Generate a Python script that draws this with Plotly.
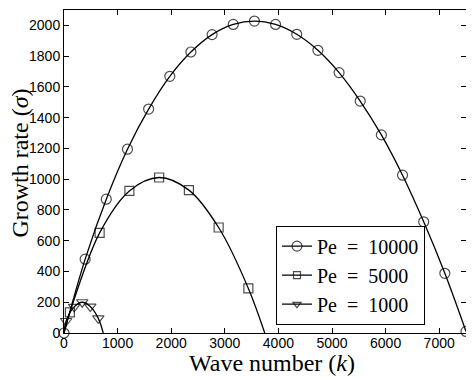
import plotly.graph_objects as go

# ---- data ----
k_pe10000 = [0, 395, 789, 1184, 1579, 1974, 2368, 2763, 3158, 3553,
             3947, 4342, 4737, 5132, 5526, 5921, 6316, 6711, 7105, 7500]
s_pe10000 = [0, 480, 870, 1195, 1456, 1669, 1827, 1940, 2006, 2028,
             2006, 1942, 1838, 1693, 1508, 1288, 1026, 723, 388, 10]

k_pe5000 = [0, 110, 665, 1220, 1775, 2330, 2885, 3440, 3745]
s_pe5000 = [0, 134, 651, 924, 1011, 929, 686, 290, 0]
m_pe5000 = [False, True, True, True, True, True, True, True, False]

k_pe1000 = [0, 40, 190, 340, 490, 640, 732]
s_pe1000 = [0, 78, 170, 200, 172, 95, 0]
m_pe1000 = [False, True, True, True, True, True, False]

series_names = ["Pe\u00a0\u00a0=\u00a0\u00a010000",
                "Pe\u00a0\u00a0=\u00a0\u00a05000",
                "Pe\u00a0\u00a0=\u00a0\u00a01000"]
x_ticks = [0, 1000, 2000, 3000, 4000, 5000, 6000, 7000]
y_ticks = [0, 200, 400, 600, 800, 1000, 1200, 1400, 1600, 1800, 2000]
x_title = "Wave number (<i>k</i>)"
y_title = "Growth rate (<i>σ</i>)"

serif = "Liberation Serif"
sans = "Liberation Sans"

fig = go.Figure()

def add(k, s, mask, name, symbol, size):
    sizes = [size if m else 0 for m in mask]
    fig.add_trace(go.Scatter(
        x=k, y=s, name=name, mode="lines+markers", cliponaxis=False,
        line=dict(color="black", width=1.3, shape="spline", smoothing=1.0),
        marker=dict(symbol=symbol, size=sizes, color="black",
                    line=dict(width=1.2, color="black")),
    ))

add(k_pe10000, s_pe10000, [True] * len(k_pe10000), series_names[0], "circle-open", 10)
add(k_pe5000, s_pe5000, m_pe5000, series_names[1], "square-open", 9)
add(k_pe1000, s_pe1000, m_pe1000, series_names[2], "triangle-down-open", 10)

axis_common = dict(
    showline=True, linecolor="black", linewidth=1, mirror="allticks",
    ticks="inside", ticklen=5, tickcolor="black", showgrid=False, zeroline=False,
    tickfont=dict(family=sans, size=14, color="black"), automargin=False,
)

title_font = dict(family=serif, size=24, color="black")

# the page body has an 8px margin, so the margins are shifted by 8px
fig.update_layout(
    width=474, height=378,
    margin=dict(l=56, r=16, t=2, b=53),
    paper_bgcolor="white", plot_bgcolor="white",
    xaxis=dict(range=[0, 7500], tickvals=x_ticks, ticklabelstandoff=-3,
               **axis_common),
    yaxis=dict(range=[0, 2100], tickvals=y_ticks, **axis_common),
    legend=dict(x=0.898, y=0.026, xanchor="right", yanchor="bottom",
                bgcolor="white", bordercolor="black", borderwidth=1,
                font=dict(family=serif, size=20, color="black"),
                tracegroupgap=0, itemwidth=30),
    showlegend=True,
    annotations=[
        dict(text=x_title, xref="paper", yref="paper",
             x=0.517, y=-0.1393, xanchor="center", yanchor="bottom",
             showarrow=False, font=title_font),
        dict(text=y_title, xref="paper", yref="paper", textangle=-90,
             x=-0.1455, y=0.526, xanchor="left", yanchor="middle",
             showarrow=False, font=title_font),
    ],
)

fig.write_html("out.html")
